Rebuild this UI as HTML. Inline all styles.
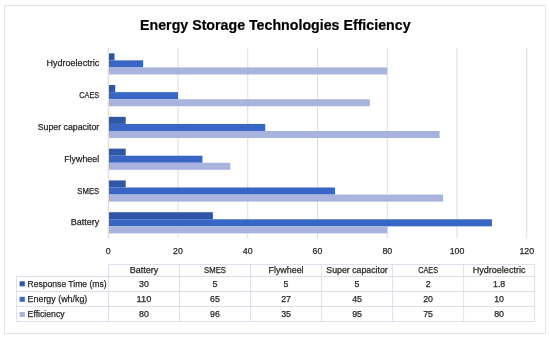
<!DOCTYPE html>
<html><head><meta charset="utf-8"><title>Energy Storage Technologies Efficiency</title>
<style>html,body{margin:0;padding:0;background:#fff;width:550px;height:340px;overflow:hidden}
svg{display:block;font-family:"Liberation Sans",sans-serif}
text{stroke:#262626;stroke-width:0.25px;paint-order:stroke}
text.t{stroke:#000;stroke-width:0.2px}</style></head>
<body><svg width="550" height="340" viewBox="0 0 550 340">
<rect x="4.5" y="5.5" width="541" height="328" fill="#fff" stroke="#e3e3e9" stroke-width="1"/>
<text x="275.30" y="29.60" text-anchor="middle" font-size="14.8" font-weight="bold" class="t" fill="#000" textLength="270.50" lengthAdjust="spacingAndGlyphs">Energy Storage Technologies Efficiency</text>
<line x1="108.25" y1="48" x2="108.25" y2="238.7" stroke="#dcdce3" stroke-width="1"/>
<line x1="178.01" y1="48" x2="178.01" y2="238.7" stroke="#dcdce3" stroke-width="1"/>
<line x1="247.77" y1="48" x2="247.77" y2="238.7" stroke="#dcdce3" stroke-width="1"/>
<line x1="317.53" y1="48" x2="317.53" y2="238.7" stroke="#dcdce3" stroke-width="1"/>
<line x1="387.29" y1="48" x2="387.29" y2="238.7" stroke="#dcdce3" stroke-width="1"/>
<line x1="457.05" y1="48" x2="457.05" y2="238.7" stroke="#dcdce3" stroke-width="1"/>
<line x1="526.81" y1="48" x2="526.81" y2="238.7" stroke="#dcdce3" stroke-width="1"/>
<rect x="108.25" y="53.30" width="6.28" height="7.06" fill="#3156a5"/>
<rect x="108.25" y="60.36" width="34.88" height="7.06" fill="#3866c5"/>
<rect x="108.25" y="67.42" width="279.04" height="7.06" fill="#a8b4de"/>
<text x="99.20" y="66.39" text-anchor="end" font-size="9.2" fill="#262626" textLength="52.70" lengthAdjust="spacingAndGlyphs">Hydroelectric</text>
<rect x="108.25" y="85.08" width="6.98" height="7.06" fill="#3156a5"/>
<rect x="108.25" y="92.14" width="69.76" height="7.06" fill="#3866c5"/>
<rect x="108.25" y="99.21" width="261.60" height="7.06" fill="#a8b4de"/>
<text x="99.20" y="98.17" text-anchor="end" font-size="9.2" fill="#262626" textLength="19.88" lengthAdjust="spacingAndGlyphs">CAES</text>
<rect x="108.25" y="116.86" width="17.44" height="7.06" fill="#3156a5"/>
<rect x="108.25" y="123.93" width="156.96" height="7.06" fill="#3866c5"/>
<rect x="108.25" y="130.99" width="331.36" height="7.06" fill="#a8b4de"/>
<text x="99.20" y="129.96" text-anchor="end" font-size="9.2" fill="#262626" textLength="61.44" lengthAdjust="spacingAndGlyphs">Super capacitor</text>
<rect x="108.25" y="148.65" width="17.44" height="7.06" fill="#3156a5"/>
<rect x="108.25" y="155.71" width="94.18" height="7.06" fill="#3866c5"/>
<rect x="108.25" y="162.77" width="122.08" height="7.06" fill="#a8b4de"/>
<text x="99.20" y="161.74" text-anchor="end" font-size="9.2" fill="#262626" textLength="35.02" lengthAdjust="spacingAndGlyphs">Flywheel</text>
<rect x="108.25" y="180.43" width="17.44" height="7.06" fill="#3156a5"/>
<rect x="108.25" y="187.49" width="226.72" height="7.06" fill="#3866c5"/>
<rect x="108.25" y="194.56" width="334.85" height="7.06" fill="#a8b4de"/>
<text x="99.20" y="193.52" text-anchor="end" font-size="9.2" fill="#262626" textLength="21.85" lengthAdjust="spacingAndGlyphs">SMES</text>
<rect x="108.25" y="212.21" width="104.64" height="7.06" fill="#3156a5"/>
<rect x="108.25" y="219.28" width="383.68" height="7.06" fill="#3866c5"/>
<rect x="108.25" y="226.34" width="279.04" height="7.06" fill="#a8b4de"/>
<text x="99.20" y="225.31" text-anchor="end" font-size="9.2" fill="#262626" textLength="28.53" lengthAdjust="spacingAndGlyphs">Battery</text>
<line x1="108.5" y1="48" x2="108.5" y2="238.7" stroke="#dcdce3" stroke-width="1"/>
<text x="108.25" y="253.80" text-anchor="middle" font-size="9.2" fill="#262626" textLength="4.92" lengthAdjust="spacingAndGlyphs">0</text>
<text x="178.01" y="253.80" text-anchor="middle" font-size="9.2" fill="#262626" textLength="9.83" lengthAdjust="spacingAndGlyphs">20</text>
<text x="247.77" y="253.80" text-anchor="middle" font-size="9.2" fill="#262626" textLength="9.83" lengthAdjust="spacingAndGlyphs">40</text>
<text x="317.53" y="253.80" text-anchor="middle" font-size="9.2" fill="#262626" textLength="9.83" lengthAdjust="spacingAndGlyphs">60</text>
<text x="387.29" y="253.80" text-anchor="middle" font-size="9.2" fill="#262626" textLength="9.83" lengthAdjust="spacingAndGlyphs">80</text>
<text x="457.05" y="253.80" text-anchor="middle" font-size="9.2" fill="#262626" textLength="14.75" lengthAdjust="spacingAndGlyphs">100</text>
<text x="526.81" y="253.80" text-anchor="middle" font-size="9.2" fill="#262626" textLength="14.75" lengthAdjust="spacingAndGlyphs">120</text>
<line x1="108.5" y1="264.5" x2="534.62" y2="264.5" stroke="#dce0ea"/>
<line x1="16.5" y1="276.5" x2="534.62" y2="276.5" stroke="#dce0ea"/>
<line x1="16.5" y1="291.5" x2="534.62" y2="291.5" stroke="#dce0ea"/>
<line x1="16.5" y1="306.5" x2="534.62" y2="306.5" stroke="#dce0ea"/>
<line x1="16.5" y1="321.5" x2="534.62" y2="321.5" stroke="#dce0ea"/>
<line x1="16.5" y1="276.5" x2="16.5" y2="321.5" stroke="#dce0ea"/>
<line x1="108.5" y1="264.5" x2="108.5" y2="321.5" stroke="#dce0ea"/>
<line x1="179.51999999999998" y1="264.5" x2="179.51999999999998" y2="321.5" stroke="#dce0ea"/>
<line x1="250.54" y1="264.5" x2="250.54" y2="321.5" stroke="#dce0ea"/>
<line x1="321.56" y1="264.5" x2="321.56" y2="321.5" stroke="#dce0ea"/>
<line x1="392.58" y1="264.5" x2="392.58" y2="321.5" stroke="#dce0ea"/>
<line x1="463.59999999999997" y1="264.5" x2="463.59999999999997" y2="321.5" stroke="#dce0ea"/>
<line x1="534.62" y1="264.5" x2="534.62" y2="321.5" stroke="#dce0ea"/>
<text x="144.01" y="273.20" text-anchor="middle" font-size="9.2" fill="#262626" textLength="28.53" lengthAdjust="spacingAndGlyphs">Battery</text>
<text x="215.03" y="273.20" text-anchor="middle" font-size="9.2" fill="#262626" textLength="21.85" lengthAdjust="spacingAndGlyphs">SMES</text>
<text x="286.05" y="273.20" text-anchor="middle" font-size="9.2" fill="#262626" textLength="35.02" lengthAdjust="spacingAndGlyphs">Flywheel</text>
<text x="357.07" y="273.20" text-anchor="middle" font-size="9.2" fill="#262626" textLength="61.44" lengthAdjust="spacingAndGlyphs">Super capacitor</text>
<text x="428.09" y="273.20" text-anchor="middle" font-size="9.2" fill="#262626" textLength="19.88" lengthAdjust="spacingAndGlyphs">CAES</text>
<text x="499.11" y="273.20" text-anchor="middle" font-size="9.2" fill="#262626" textLength="52.70" lengthAdjust="spacingAndGlyphs">Hydroelectric</text>
<rect x="19.6" y="281.30" width="5.2" height="5" fill="#3156a5"/>
<text x="27.60" y="286.70" text-anchor="start" font-size="9.2" fill="#262626" textLength="78.98" lengthAdjust="spacingAndGlyphs">Response Time (ms)</text>
<text x="144.01" y="286.70" text-anchor="middle" font-size="9.2" fill="#262626" textLength="9.83" lengthAdjust="spacingAndGlyphs">30</text>
<text x="215.03" y="286.70" text-anchor="middle" font-size="9.2" fill="#262626" textLength="4.92" lengthAdjust="spacingAndGlyphs">5</text>
<text x="286.05" y="286.70" text-anchor="middle" font-size="9.2" fill="#262626" textLength="4.92" lengthAdjust="spacingAndGlyphs">5</text>
<text x="357.07" y="286.70" text-anchor="middle" font-size="9.2" fill="#262626" textLength="4.92" lengthAdjust="spacingAndGlyphs">5</text>
<text x="428.09" y="286.70" text-anchor="middle" font-size="9.2" fill="#262626" textLength="4.92" lengthAdjust="spacingAndGlyphs">2</text>
<text x="499.11" y="286.70" text-anchor="middle" font-size="9.2" fill="#262626" textLength="12.28" lengthAdjust="spacingAndGlyphs">1.8</text>
<rect x="19.6" y="296.80" width="5.2" height="5" fill="#3866c5"/>
<text x="27.60" y="302.20" text-anchor="start" font-size="9.2" fill="#262626" textLength="59.69" lengthAdjust="spacingAndGlyphs">Energy (wh/kg)</text>
<text x="144.01" y="302.20" text-anchor="middle" font-size="9.2" fill="#262626" textLength="14.75" lengthAdjust="spacingAndGlyphs">110</text>
<text x="215.03" y="302.20" text-anchor="middle" font-size="9.2" fill="#262626" textLength="9.83" lengthAdjust="spacingAndGlyphs">65</text>
<text x="286.05" y="302.20" text-anchor="middle" font-size="9.2" fill="#262626" textLength="9.83" lengthAdjust="spacingAndGlyphs">27</text>
<text x="357.07" y="302.20" text-anchor="middle" font-size="9.2" fill="#262626" textLength="9.83" lengthAdjust="spacingAndGlyphs">45</text>
<text x="428.09" y="302.20" text-anchor="middle" font-size="9.2" fill="#262626" textLength="9.83" lengthAdjust="spacingAndGlyphs">20</text>
<text x="499.11" y="302.20" text-anchor="middle" font-size="9.2" fill="#262626" textLength="9.83" lengthAdjust="spacingAndGlyphs">10</text>
<rect x="19.6" y="312.00" width="5.2" height="5" fill="#a8b4de"/>
<text x="27.60" y="317.40" text-anchor="start" font-size="9.2" fill="#262626" textLength="37.01" lengthAdjust="spacingAndGlyphs">Efficiency</text>
<text x="144.01" y="317.40" text-anchor="middle" font-size="9.2" fill="#262626" textLength="9.83" lengthAdjust="spacingAndGlyphs">80</text>
<text x="215.03" y="317.40" text-anchor="middle" font-size="9.2" fill="#262626" textLength="9.83" lengthAdjust="spacingAndGlyphs">96</text>
<text x="286.05" y="317.40" text-anchor="middle" font-size="9.2" fill="#262626" textLength="9.83" lengthAdjust="spacingAndGlyphs">35</text>
<text x="357.07" y="317.40" text-anchor="middle" font-size="9.2" fill="#262626" textLength="9.83" lengthAdjust="spacingAndGlyphs">95</text>
<text x="428.09" y="317.40" text-anchor="middle" font-size="9.2" fill="#262626" textLength="9.83" lengthAdjust="spacingAndGlyphs">75</text>
<text x="499.11" y="317.40" text-anchor="middle" font-size="9.2" fill="#262626" textLength="9.83" lengthAdjust="spacingAndGlyphs">80</text>
</svg></body></html>
